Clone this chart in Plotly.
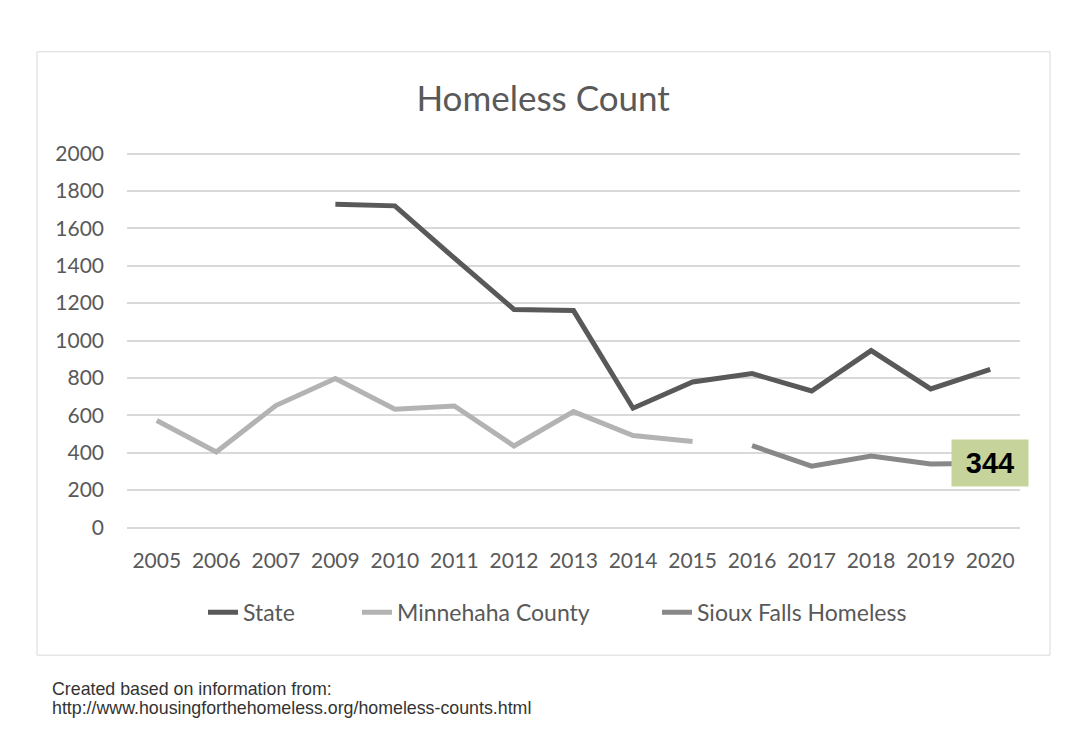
import plotly.graph_objects as go

years = ["2005", "2006", "2007", "2009", "2010", "2011", "2012", "2013",
         "2014", "2015", "2016", "2017", "2018", "2019", "2020"]
state = [None, None, None, 1728, 1720, 1440, 1166, 1160, 638, 778, 823, 730, 946, 741, 845]
minnehaha = [572, 404, 652, 797, 632, 650, 436, 620, 492, 460, None, None, None, None, None]
sioux_falls = [None, None, None, None, None, None, None, None, None, None, 438, 328, 382, 340, 344]
y_ticks = [0, 200, 400, 600, 800, 1000, 1200, 1400, 1600, 1800, 2000]

FONT = "Lato"
TXT = "#595959"

# plot area in pixels
W, H = 1082, 741
L, R, T, B = 127, 62, 151.5, 211.5
PW, PH = W - L - R, H - T - B


def px(x):
    return (x - L) / PW


def py(y):
    return (H - B - y) / PH


fig = go.Figure()
fig.add_trace(go.Scatter(x=years, y=state, name="State", mode="lines", legend="legend",
                         line=dict(color="#595959", width=5), connectgaps=False))
fig.add_trace(go.Scatter(x=years, y=minnehaha, name="Minnehaha County", mode="lines", legend="legend2",
                         line=dict(color="#b3b3b3", width=5), connectgaps=False))
fig.add_trace(go.Scatter(x=years, y=sioux_falls, name="Sioux Falls Homeless", mode="lines", legend="legend3",
                         line=dict(color="#888888", width=5), connectgaps=False))

fig.add_annotation(x=len(years) - 1, y=sioux_falls[-1], text="<b>344</b>", showarrow=False,
                   bgcolor="#c6d39b", width=74, height=44,
                   font=dict(family="Liberation Sans Narrow, Liberation Sans", size=29, color="#000000"))

fig.add_annotation(xref="paper", yref="paper", x=px(50), y=py(690), xanchor="left", yanchor="middle",
                   align="left", showarrow=False, text="Created based on information from:",
                   font=dict(family="Liberation Sans", size=17.8, color="#333333"))
fig.add_annotation(xref="paper", yref="paper", x=px(50), y=py(709), xanchor="left", yanchor="middle",
                   align="left", showarrow=False,
                   text="http://www.housingforthehomeless.org/homeless-counts.html",
                   font=dict(family="Liberation Sans", size=17.8, color="#333333"))

fig.add_shape(type="rect", xref="paper", yref="paper", x0=px(37), x1=px(1050), y0=py(656), y1=py(51),
              line=dict(color="#d9d9d9", width=1), fillcolor="rgba(0,0,0,0)", layer="below")

leg_common = dict(orientation="h", yanchor="middle", xanchor="left", y=py(613),
                  font=dict(family=FONT, size=23, color=TXT), bgcolor="rgba(0,0,0,0)")

fig.update_layout(
    width=W, height=H,
    paper_bgcolor="white", plot_bgcolor="white",
    margin=dict(l=L, r=R, t=T, b=B),
    title=dict(text="Homeless Count", x=0.502, xanchor="center", y=1 - 99 / H, yanchor="middle",
               xref="container", yref="container",
               font=dict(family=FONT, size=35, color=TXT)),
    showlegend=True,
    legend=dict(x=px(203), **leg_common),
    legend2=dict(x=px(357), **leg_common),
    legend3=dict(x=px(657), **leg_common),
    xaxis=dict(type="category", categoryorder="array", categoryarray=years,
               range=[-0.5, len(years) - 0.5],
               showgrid=False, showline=False, ticks="", ticklabelstandoff=17,
               tickfont=dict(family=FONT, size=21, color=TXT)),
    yaxis=dict(range=[-8, 2008], tickvals=y_ticks, showgrid=True, gridcolor="#d9d9d9", gridwidth=1.5,
               zeroline=False, showline=False, ticks="", ticklabelstandoff=22,
               tickfont=dict(family=FONT, size=21, color=TXT)),
)

fig.write_html("out.html")
